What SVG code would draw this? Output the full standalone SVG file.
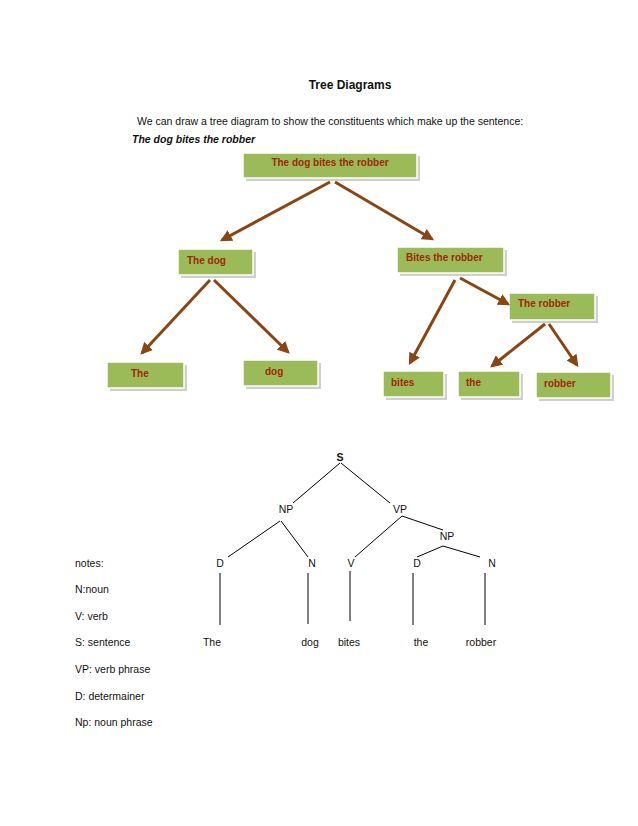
<svg xmlns="http://www.w3.org/2000/svg" width="638" height="826" viewBox="0 0 638 826">
<style>
text{font-family:"Liberation Sans",Arial,sans-serif;fill:#111}
.bx{fill:#9bbb59;stroke:#fff;stroke-width:1.5}
.sh{fill:#cfcfcf}
.bl{font-size:10px;font-weight:bold;fill:#a0260b}
.ar{stroke:#8b4513;stroke-width:3;fill:none;marker-end:url(#ah)}
.ln{stroke:#000;stroke-width:1;fill:none}
.t{font-size:10.5px}
.m{text-anchor:middle}
</style>
<defs><marker id="ah" viewBox="0 0 10 10" refX="8" refY="5" markerWidth="4" markerHeight="4" orient="auto"><path d="M0,0L10,5L0,10z" fill="#8b4513"/></marker></defs>
<rect width="638" height="826" fill="#fff"/>
<text x="350" y="89" class="m" style="font-size:12px;font-weight:bold">Tree Diagrams</text>
<text x="137" y="125" class="t">We can draw a tree diagram to show the constituents which make up the sentence:</text>
<text x="132" y="143" class="t" style="font-weight:bold;font-style:italic">The dog bites the robber</text>
<g id="n-root"><rect class="sh" x="246" y="156" width="174" height="25"/><rect class="bx" x="243" y="153" width="174" height="25"/><text x="330" y="166" class="bl m">The dog bites the robber</text></g>
<g id="n-thedog"><rect class="sh" x="181" y="252" width="75" height="26"/><rect class="bx" x="178" y="249" width="75" height="26"/><text x="187" y="264" class="bl">The dog</text></g>
<g id="n-bites-the-robber"><rect class="sh" x="400" y="250" width="107" height="26"/><rect class="bx" x="397" y="247" width="107" height="26"/><text x="406" y="261" class="bl">Bites the robber</text></g>
<g id="n-the-robber"><rect class="sh" x="512" y="296" width="86" height="27"/><rect class="bx" x="509" y="293" width="86" height="27"/><text x="518" y="307" class="bl">The robber</text></g>
<g id="n-The"><rect class="sh" x="110" y="365" width="77" height="26"/><rect class="bx" x="107" y="362" width="77" height="26"/><text x="131" y="377" class="bl">The</text></g>
<g id="n-dog"><rect class="sh" x="246" y="363" width="75" height="26"/><rect class="bx" x="243" y="360" width="75" height="26"/><text x="265" y="375" class="bl">dog</text></g>
<g id="n-bites"><rect class="sh" x="386" y="374" width="61" height="26"/><rect class="bx" x="383" y="371" width="61" height="26"/><text x="391" y="386" class="bl">bites</text></g>
<g id="n-the"><rect class="sh" x="461" y="374" width="62" height="26"/><rect class="bx" x="458" y="371" width="62" height="26"/><text x="466" y="386" class="bl">the</text></g>
<g id="n-robber"><rect class="sh" x="539" y="375" width="75" height="26"/><rect class="bx" x="536" y="372" width="75" height="26"/><text x="544" y="387" class="bl">robber</text></g>
<g id="arrows">
<line class="ar" x1="330" y1="182" x2="222" y2="240"/>
<line class="ar" x1="335" y1="182" x2="432" y2="239"/>
<line class="ar" x1="210" y1="280" x2="142" y2="353"/>
<line class="ar" x1="214" y1="280" x2="288" y2="352"/>
<line class="ar" x1="455" y1="280" x2="410" y2="363"/>
<line class="ar" x1="460" y1="278" x2="508" y2="304"/>
<line class="ar" x1="545" y1="324" x2="492" y2="366"/>
<line class="ar" x1="549" y1="324" x2="577" y2="365"/>
</g>
<g id="tree">
<text x="340" y="461" class="t m" style="font-weight:bold">S</text>
<text x="286" y="513" class="t m">NP</text>
<text x="400" y="513" class="t m">VP</text>
<text x="447" y="540" class="t m">NP</text>
<text x="220" y="567" class="t m">D</text>
<text x="312" y="567" class="t m">N</text>
<text x="351" y="567" class="t m">V</text>
<text x="417" y="567" class="t m">D</text>
<text x="492" y="567" class="t m">N</text>
<text x="212" y="646" class="t m">The</text>
<text x="310" y="646" class="t m">dog</text>
<text x="349" y="646" class="t m">bites</text>
<text x="421" y="646" class="t m">the</text>
<text x="481" y="646" class="t m">robber</text>
<path class="ln" d="M340,463L293,503M341,463L390,503M280,521L228,557M281,521L308,557M402,516L355,557M402,516L443,530M443,546L417,557M443,546L480,557M220,573V625M308,573V624M350,571V621M413,573V625M485,573V625"/>
</g>
<g id="notes" class="t">
<text x="75" y="567" class="t">notes:</text>
<text x="75" y="593" class="t">N:noun</text>
<text x="75" y="620" class="t">V: verb</text>
<text x="75" y="646" class="t">S: sentence</text>
<text x="75" y="673" class="t">VP: verb phrase</text>
<text x="75" y="700" class="t">D: determainer</text>
<text x="75" y="726" class="t">Np: noun phrase</text>
</g>
</svg>
